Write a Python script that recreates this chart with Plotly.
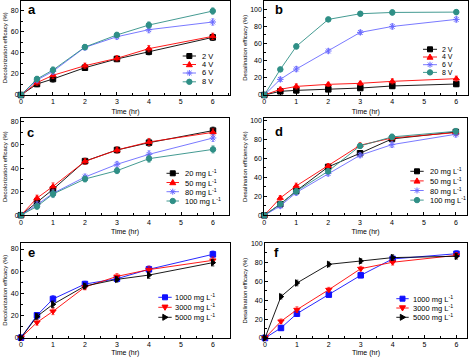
import plotly.graph_objects as go

W, H = 474, 357

time = [0, 0.5, 1, 2, 3, 4, 6]

# Panel a: decolorization vs voltage
a_2V = [0, 10.4, 15.2, 25.9, 34.2, 41.1, 54.7]
a_4V = [0, 11.7, 18.7, 27.8, 34.8, 44.0, 55.7]
a_6V = [0, 14.2, 22.5, 45.2, 55.3, 62.0, 69.3]
a_8V = [0, 15.2, 23.7, 45.5, 57.0, 66.4, 79.7]
# Panel b: desalination vs voltage
b_2V = [0, 4.3, 5.4, 6.6, 8.1, 10.5, 12.8]
b_4V = [0, 6.6, 10.0, 12.4, 13.6, 15.9, 19.0]
b_6V = [0, 18.2, 30.2, 51.2, 72.9, 79.8, 88.0]
b_8V = [0, 29.8, 56.6, 88.0, 94.6, 96.1, 96.5]
# Panel c: decolorization vs dye concentration
c_20 = [0, 11.2, 22.0, 46.0, 55.5, 61.7, 72.0]
c_50 = [0, 14.6, 24.5, 45.8, 55.5, 62.3, 70.5]
c_80 = [0, 8.9, 18.6, 32.5, 43.3, 51.8, 65.7]
c_100 = [0, 7.5, 18.0, 30.8, 37.9, 48.1, 56.0]
# Panel d: desalination vs dye concentration
d_20 = [0, 11.6, 25.6, 50.9, 65.3, 80.4, 87.7]
d_50 = [0, 18.2, 30.9, 51.9, 73.7, 81.4, 87.0]
d_80 = [0, 9.8, 23.9, 43.9, 63.2, 74.4, 85.3]
d_100 = [0, 11.9, 25.3, 46.3, 73.0, 82.5, 88.4]
# Panel e: decolorization vs salt concentration
e_1000 = [0, 20.2, 34.9, 48.4, 53.2, 61.7, 75.2]
e_3000 = [0, 13.8, 23.8, 45.7, 55.3, 61.4, 69.8]
e_5000 = [0, 19.2, 30.1, 46.6, 52.6, 56.5, 67.7]
# Panel f: desalination vs salt concentration
f_1000 = [0, 10.6, 25.7, 45.8, 66.2, 83.5, 89.0]
f_3000 = [0, 17.6, 29.9, 51.0, 73.2, 80.0, 87.3]
f_5000 = [0, 43.7, 58.1, 77.8, 81.3, 84.9, 86.3]

err = [0, 2.5, 3, 2.5, 2.5, 3, 3]

volt_labels = ["2 V", "4 V", "6 V", "8 V"]
dye_labels = ["20 mg L<sup>-1</sup>", "50 mg L<sup>-1</sup>", "80 mg L<sup>-1</sup>", "100 mg L<sup>-1</sup>"]
salt_labels = ["1000 mg L<sup>-1</sup>", "3000 mg L<sup>-1</sup>", "5000 mg L<sup>-1</sup>"]
panel_letters = ["a", "b", "c", "d", "e", "f"]
y_titles = ["Decolorization efficacy (%)", "Desalination efficacy (%)",
            "Decolorization efficacy (%)", "Desalination efficiency (%)",
            "Decolorization efficacy (%)", "Desalination efficacy (%)"]
x_title = "Time (hr)"

FONT = "Arial, Liberation Sans, sans-serif"
BLACK, RED, BLUE, TEAL, BLUE2 = "#000000", "#ff0000", "#6a6aff", "#2f8f86", "#1010ff"

sty4 = [(BLACK, "square"), (RED, "triangle-up"), (BLUE, "asterisk-open"), (TEAL, "circle")]
sty3 = [(BLUE2, "square"), (RED, "triangle-down"), (BLACK, "triangle-right")]

panels = [
    ([a_2V, a_4V, a_6V, a_8V], volt_labels, sty4),
    ([b_2V, b_4V, b_6V, b_8V], volt_labels, sty4),
    ([c_20, c_50, c_80, c_100], dye_labels, sty4),
    ([d_20, d_50, d_80, d_100], dye_labels, sty4),
    ([e_1000, e_3000, e_5000], salt_labels, sty3),
    ([f_1000, f_3000, f_5000], salt_labels, sty3),
]

# pixel boxes of plot areas: x0, x1, ytop, ybottom ; axis ranges
boxes = [
    (21, 230, 0.5, 95, 6.54, 89.7),
    (264.3, 467.5, 0.5, 95, 6.35, 110),
    (21, 229, 118, 215.2, 6.5, 82.7),
    (264.3, 467, 118, 215.3, 6.35, 102.4),
    (21, 229.5, 242.7, 337.7, 6.52, 85.7),
    (265, 467, 243.3, 338, 6.33, 100),
]
# legend layout: line x0, x1, text x, row ys, font size
legends = [
    (182.7, 196, 199.5, [56, 64.5, 73, 81.8], 7.5),
    (423, 437, 439.5, [49.3, 57.0, 64.7, 72.4], 7),
    (166.5, 179, 182.7, [173.3, 182.5, 191.7, 201], 7.5),
    (410.3, 423.7, 428, [171.3, 180.9, 190.5, 200.1], 7.5),
    (158.3, 171.7, 172.7, [297.3, 307.3, 317.3], 7.5),
    (396.3, 408.7, 411, [298.7, 308, 317.3], 7.5),
]
letter_pos = [(32, 9), (279, 9), (30, 132), (279, 131), (32, 252.7), (276.5, 252)]

fig = go.Figure()
layout = dict(
    template="none",
    width=W, height=H, margin=dict(l=0, r=0, t=0, b=0, autoexpand=False),
    paper_bgcolor="white", plot_bgcolor="white", showlegend=False,
    font=dict(family=FONT, size=7, color="black"),
)
shapes, annotations = [], []

def px(x):
    return x / W

def py(y):
    return 1 - y / H

for i, (series, labels, styles) in enumerate(panels):
    n = i + 1
    xa = "x" if n == 1 else f"x{n}"
    ya = "y" if n == 1 else f"y{n}"
    for vals, lab, (col, sym) in zip(series, labels, styles):
        fig.add_trace(go.Scatter(
            x=time, y=vals, xaxis=xa, yaxis=ya, name=lab, mode="lines+markers",
            line=dict(color=col, width=0.9),
            marker=dict(symbol=sym, size=5.5, color=col, line=dict(color=col, width=1)),
            error_y=dict(type="data", array=err, color=col, thickness=0.7, width=1.5),
            cliponaxis=False,
        ))
    x0, x1, yt, yb, xmax, ymax = boxes[i]
    common = dict(showline=True, linecolor="black", linewidth=1, mirror=True,
                  showgrid=False, zeroline=False, ticks="inside", ticklen=3,
                  tickcolor="black", tickfont=dict(size=7, family=FONT),
                  automargin=False)
    layout["xaxis" if n == 1 else f"xaxis{n}"] = dict(
        common, domain=[px(x0), px(x1)], range=[0, xmax], anchor=ya,
        tickmode="array", tickvals=[0, 1, 2, 3, 4, 5, 6],
        minor=dict(ticks="inside", ticklen=2, dtick=0.5, tick0=0, tickcolor="black"),
        title=dict(text=x_title, font=dict(size=7, family=FONT), standoff=4),
    )
    layout["yaxis" if n == 1 else f"yaxis{n}"] = dict(
        common, domain=[py(yb), py(yt)], range=[0, ymax], anchor=xa,
        dtick=20, tick0=0,
        minor=dict(ticks="inside", ticklen=2, dtick=10, tick0=0, tickcolor="black"),
        title=dict(text=y_titles[i], font=dict(size=6, family=FONT), standoff=2),
    )
    # panel letter
    lx, ly = letter_pos[i]
    annotations.append(dict(text=f"<b>{panel_letters[i]}</b>", x=px(lx), y=py(ly),
                            xref="paper", yref="paper", showarrow=False,
                            xanchor="center", yanchor="middle",
                            font=dict(size=13, family=FONT, color="black")))
    # legend (drawn as layout decoration)
    lx0, lx1, tx, rows, fsz = legends[i]
    for lab, (col, sym), ry in zip(labels, styles, rows):
        shapes.append(dict(type="line", xref="paper", yref="paper",
                           x0=px(lx0), x1=px(lx1), y0=py(ry), y1=py(ry),
                           line=dict(color=col, width=0.9)))
        mx = px((lx0 + lx1) / 2)
        my = py(ry)
        base = dict(xref="paper", yref="paper", xsizemode="pixel", ysizemode="pixel",
                    xanchor=mx, yanchor=my, line=dict(color=col, width=1))
        if sym == "square":
            shapes.append(dict(base, type="rect", x0=-2.5, x1=2.5, y0=-2.5, y1=2.5, fillcolor=col))
        elif sym == "circle":
            shapes.append(dict(base, type="circle", x0=-2.7, x1=2.7, y0=-2.7, y1=2.7, fillcolor=col))
        elif sym == "triangle-up":
            shapes.append(dict(base, type="path", path="M-3,-2.2 L3,-2.2 L0,3 Z", fillcolor=col))
        elif sym == "triangle-down":
            shapes.append(dict(base, type="path", path="M-3,2.2 L3,2.2 L0,-3 Z", fillcolor=col))
        elif sym == "triangle-right":
            shapes.append(dict(base, type="path", path="M-2.2,-3 L-2.2,3 L3,0 Z", fillcolor=col))
        else:
            shapes.append(dict(base, type="path",
                               path="M-3,0 L3,0 M0,-3 L0,3 M-2.2,-2.2 L2.2,2.2 M-2.2,2.2 L2.2,-2.2"))
        annotations.append(dict(text=lab, x=px(tx), y=my, xref="paper", yref="paper",
                                showarrow=False, xanchor="left", yanchor="middle",
                                font=dict(size=fsz, family=FONT, color="black")))

layout["shapes"] = shapes
layout["annotations"] = annotations
fig.update_layout(**layout)
fig.write_html("out.html", config={"displayModeBar": False},
               post_script="document.body.style.margin='0';document.body.style.overflow='hidden';")
